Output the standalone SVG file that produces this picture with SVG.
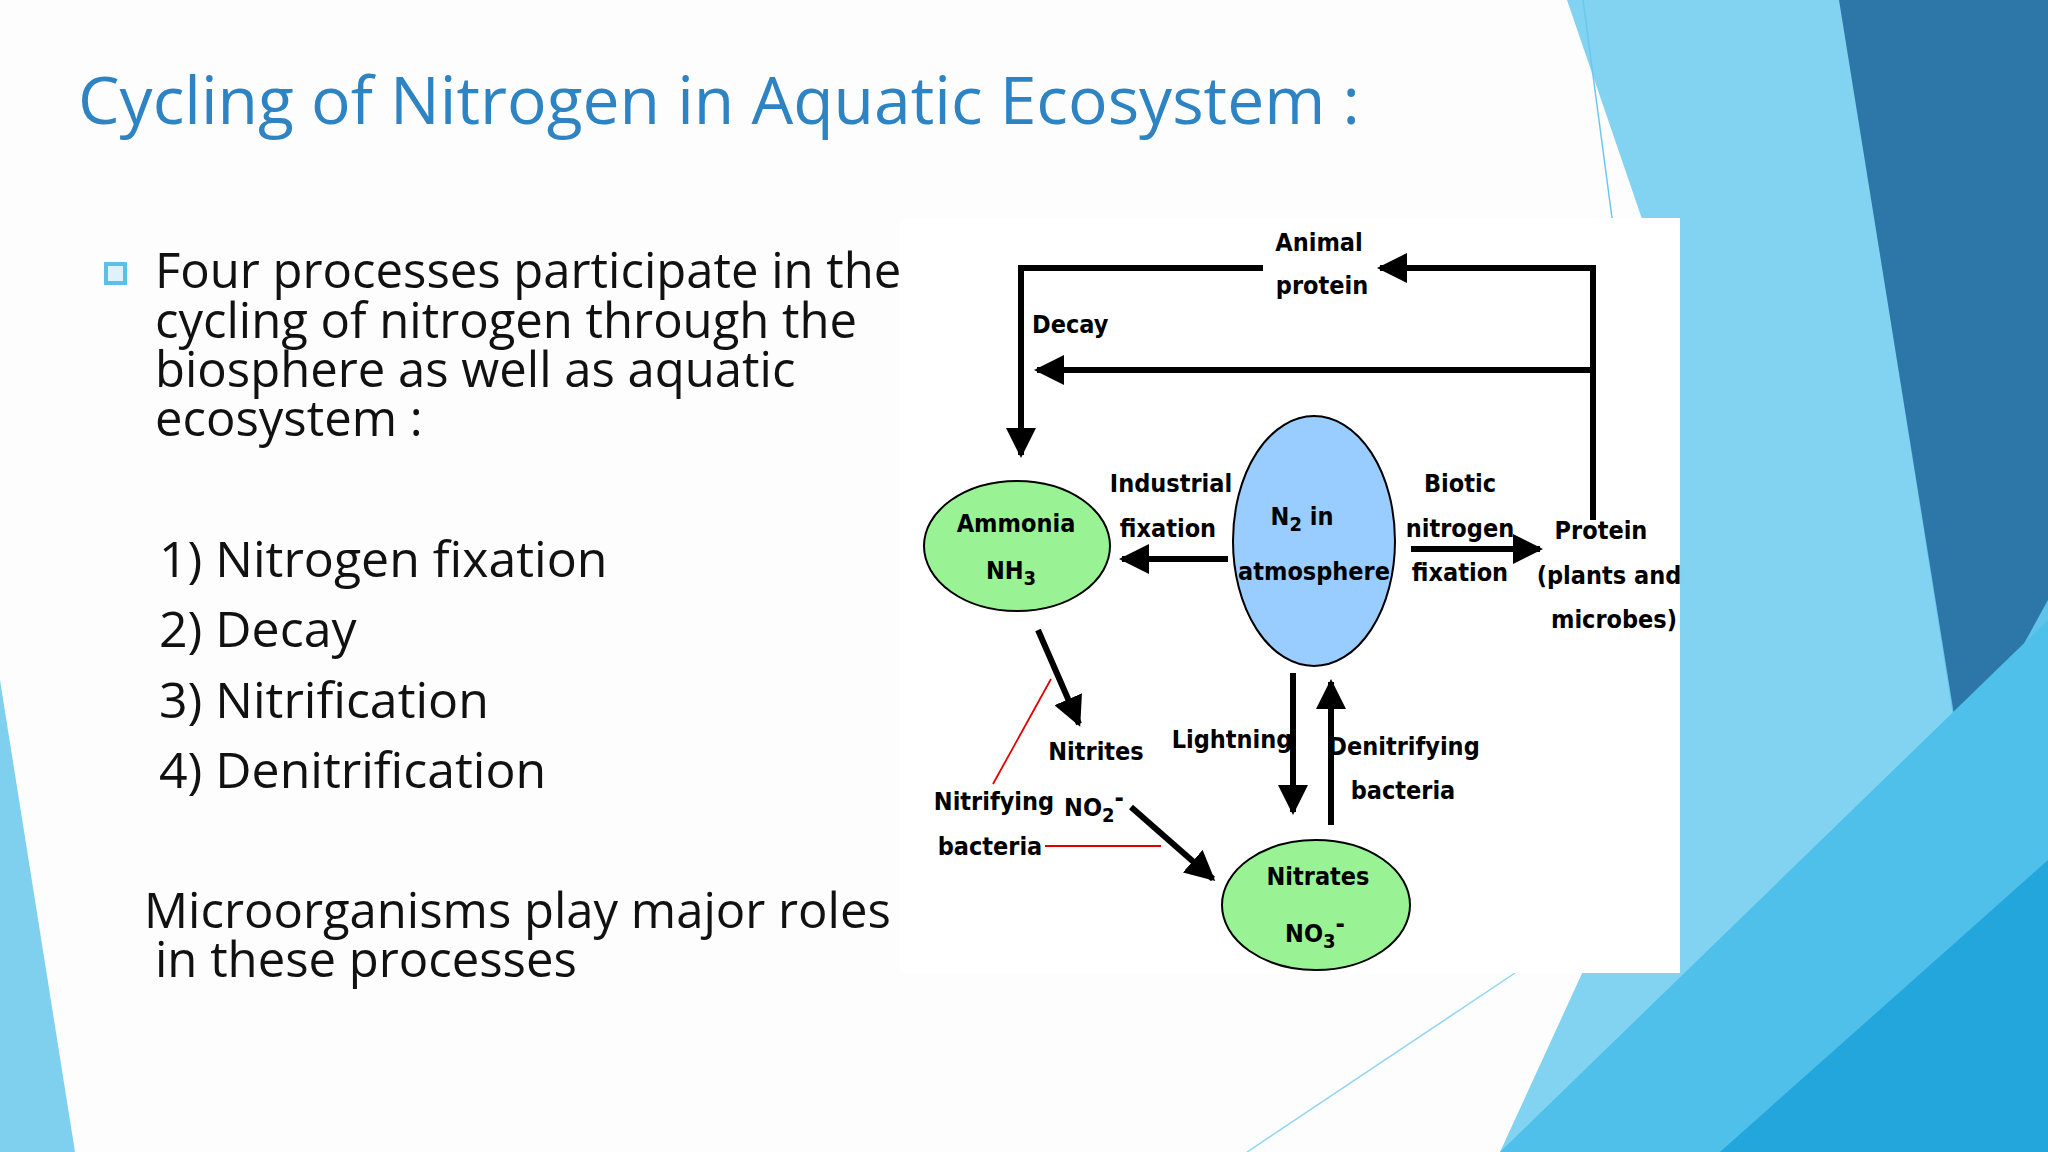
<svg xmlns="http://www.w3.org/2000/svg" width="2048" height="1152" viewBox="0 0 2048 1152">
<defs>
<style>
.t{font-family:"Open Sans","Noto Sans","Liberation Sans",sans-serif;fill:#111}
.d{font-family:"DejaVu Sans Condensed","DejaVu Sans",sans-serif;font-stretch:condensed;font-weight:bold;font-size:25px;fill:#000;text-anchor:middle}
.ln{stroke:#000;stroke-width:6;fill:none}
.red{stroke:#e00000;stroke-width:1.8;fill:none}
</style>
<marker id="ah" markerWidth="5" markerHeight="5" refX="4.5" refY="2.5" orient="auto" markerUnits="strokeWidth"><path d="M0,0 L5,2.5 L0,5 Z" fill="#000"/></marker>
</defs>
<rect width="2048" height="1152" fill="#fdfdfd"/>
<g id="background">
<polygon points="1567,0 1840,0 2048,1152 1500,1152 1680,760 1680,330" fill="#82d3f1"/>
<polygon points="1840,0 2048,0 2048,1152 1960,760" fill="#60c4ea"/>
<polygon points="1839,0 2048,0 2048,600 1961,758" fill="#2d76a8"/>
<polygon points="1500,1152 2048,620 2048,1152" fill="#4fc0ea"/>
<polygon points="1720,1152 2048,860 2048,1152" fill="#22a6db"/>
<polygon points="0,680 75,1152 0,1152" fill="#7fd0ee"/>
<line x1="1583" y1="0" x2="1612" y2="218" stroke="#6cc7ee" stroke-width="1.5"/>
<line x1="1247" y1="1152" x2="1515" y2="973" stroke="#8fd5f1" stroke-width="1.5"/>
<rect x="900" y="218" width="780" height="755" fill="#ffffff"/>
</g>
<g id="title"><text x="78" y="124" class="t" style="font-size:66px;fill:#2e83c2">Cycling of Nitrogen in Aquatic Ecosystem :</text></g>
<g id="text">
<rect x="106" y="264" width="19" height="19" fill="#dff1fb" stroke="#5bbfe6" stroke-width="4"/>
<text class="t" style="font-size:49px"><tspan x="155" y="288">Four processes participate in the</tspan><tspan x="155" y="338">cycling of nitrogen through the</tspan><tspan x="155" y="387">biosphere as well as aquatic</tspan><tspan x="155" y="436">ecosystem :</tspan></text>
<text class="t" style="font-size:50px"><tspan x="159" y="577">1) Nitrogen fixation</tspan><tspan x="159" y="647">2) Decay</tspan><tspan x="159" y="718">3) Nitrification</tspan><tspan x="159" y="788">4) Denitrification</tspan></text>
<text class="t" style="font-size:49px"><tspan x="144" y="928">Microorganisms play major roles</tspan><tspan x="155" y="977">in these processes</tspan></text>
</g>
<g id="connectors">
<polyline class="ln" points="1263,268 1021,268 1021,455" marker-end="url(#ah)"/>
<polyline class="ln" points="1593,520 1593,268 1380,268" marker-end="url(#ah)"/>
<line class="ln" x1="1593" y1="370" x2="1037" y2="370" marker-end="url(#ah)"/>
<line class="ln" x1="1228" y1="559" x2="1122" y2="559" marker-end="url(#ah)"/>
<line class="ln" x1="1411" y1="549" x2="1540" y2="549" marker-end="url(#ah)"/>
<line class="ln" x1="1038" y1="630" x2="1079" y2="724" marker-end="url(#ah)"/>
<line class="ln" x1="1131" y1="807" x2="1213" y2="879" marker-end="url(#ah)"/>
<line class="ln" x1="1293" y1="673" x2="1293" y2="812" marker-end="url(#ah)"/>
<line class="ln" x1="1331" y1="825" x2="1331" y2="682" marker-end="url(#ah)"/>
<line class="red" x1="1051" y1="679" x2="993" y2="784"/>
<line class="red" x1="1045" y1="846" x2="1161" y2="846"/>
</g>
<g id="ammonia"><ellipse cx="1017" cy="546" rx="93" ry="65" fill="#99f293" stroke="#000" stroke-width="2"/>
<text class="d" x="1016" y="532">Ammonia</text><text class="d" x="1011" y="579">NH<tspan font-size="20" dy="6">3</tspan></text></g>
<g id="n2"><ellipse cx="1314" cy="541" rx="81" ry="125" fill="#99ccff" stroke="#000" stroke-width="2"/>
<text class="d" x="1302" y="525">N<tspan font-size="20" dy="6">2</tspan><tspan dy="-6">  in</tspan></text><text class="d" x="1314" y="580">atmosphere</text></g>
<g id="nitrates"><ellipse cx="1316" cy="905" rx="94" ry="65" fill="#99f293" stroke="#000" stroke-width="2"/>
<text class="d" x="1318" y="885">Nitrates</text><text class="d" x="1315" y="942">NO<tspan font-size="20" dy="6">3</tspan><tspan dy="-16">-</tspan></text></g>
<g id="labels">
<text class="d" x="1319" y="251">Animal</text><text class="d" x="1322" y="294">protein</text>
<text class="d" x="1032" y="333" style="text-anchor:start">Decay</text>
<text class="d" x="1171" y="492">Industrial</text><text class="d" x="1168" y="537">fixation</text>
<text class="d" x="1460" y="492">Biotic</text><text class="d" x="1460" y="537">nitrogen</text><text class="d" x="1460" y="581">fixation</text>
<text class="d" x="1601" y="539">Protein</text><text class="d" x="1609" y="584">(plants and</text><text class="d" x="1614" y="628">microbes)</text>
<text class="d" x="1096" y="760">Nitrites</text><text class="d" x="1094" y="816">NO<tspan font-size="20" dy="6">2</tspan><tspan dy="-16">-</tspan></text>
<text class="d" x="994" y="810">Nitrifying</text><text class="d" x="990" y="855">bacteria</text>
<text class="d" x="1232" y="748">Lightning</text>
<text class="d" x="1404" y="755">Denitrifying</text><text class="d" x="1403" y="799">bacteria</text>
</g>
</svg>
